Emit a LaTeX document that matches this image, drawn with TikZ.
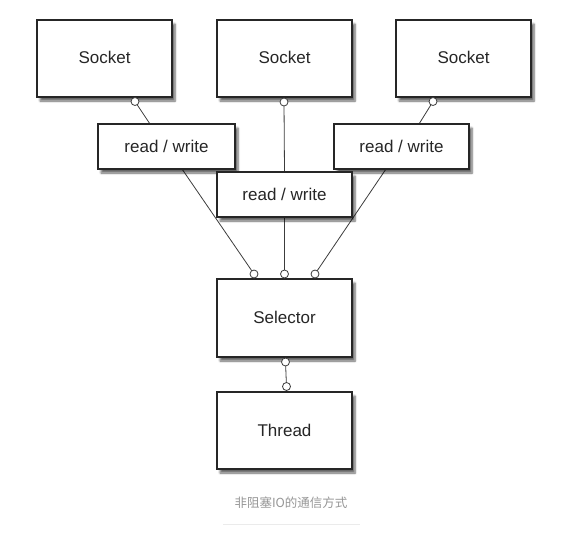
\documentclass[tikz,border=0pt]{standalone}
\usepackage{fontspec}
\setmainfont{Liberation Sans}
\newfontfamily\cjk{Noto Sans CJK SC}
\usetikzlibrary{shadows.blur}
\definecolor{linec}{RGB}{60,60,60}
\definecolor{capc}{RGB}{150,150,150}
\begin{document}
\begin{tikzpicture}[x=1pt,y=-1pt,
  box/.style={draw=black!85,line width=1.3pt,fill=white,minimum width=135pt,inner sep=0pt,
    font=\fontsize{17}{20}\selectfont,text=black!85,
    blur shadow={shadow xshift=3pt,shadow yshift=-4pt,shadow blur steps=6,shadow opacity=60}},
  bigbox/.style={box,minimum height=77pt},
  rwbox/.style={box,minimum height=45pt},
  port/.style={circle,draw=linec,fill=white,line width=0.8pt,minimum size=8pt,inner sep=0pt},
  conn/.style={draw=linec,line width=0.8pt}]
\useasboundingbox (0,0) rectangle (586,544);
% coordinates for ports and attach points
\coordinate (p1) at (135,101.5);
\coordinate (p2) at (284,102);
\coordinate (p3) at (433,101.5);
\coordinate (q1) at (150,124);
\coordinate (q2) at (284.5,172);
\coordinate (q3) at (419,124);
\coordinate (r1) at (182,169);
\coordinate (r2) at (284.5,217);
\coordinate (r3) at (386,169);
\coordinate (t1) at (254,274);
\coordinate (t2) at (284.5,274);
\coordinate (t3) at (315,274);
\coordinate (u1) at (285.5,362);
\coordinate (u2) at (286.5,386.5);
% connectors
\draw[conn] (p1) -- (q1);
\draw[conn] (p2) -- (q2);
\draw[conn] (p3) -- (q3);
\draw[conn] (r1) -- (t1);
\draw[conn] (r2) -- (t2);
\draw[conn] (r3) -- (t3);
\draw[conn] (u1) -- (u2);
% boxes
\node[bigbox] (s1) at (104.5,58.5) {\raisebox{1.5pt}{Socket}};
\node[bigbox] (s2) at (284.5,58.5) {\raisebox{1.5pt}{Socket}};
\node[bigbox] (s3) at (463.5,58.5) {\raisebox{1.5pt}{Socket}};
\node[rwbox,minimum width=137pt] (rw1) at (166.5,146.5) {read / write};
\node[rwbox] (rw3) at (401.5,146.5) {read / write};
\node[rwbox] (rw2) at (284.5,194.5) {read / write};
\node[box,minimum height=78pt] (sel) at (284.5,318) {\raisebox{1pt}{Selector}};
\node[bigbox] (th) at (284.5,430.5) {\raisebox{1pt}{Thread}};
% ports
\foreach \p in {p1,p2,p3,t1,t2,t3,u1,u2} \node[port] (c\p) at (\p) {};
% caption
\node[text=capc,font=\cjk\fontsize{12.5}{15}\selectfont] (cap) at (291,503) {非阻塞IO的通信方式};
\draw[draw=black!8,line width=0.8pt] (223,524) -- (360,524);
\end{tikzpicture}
\end{document}
